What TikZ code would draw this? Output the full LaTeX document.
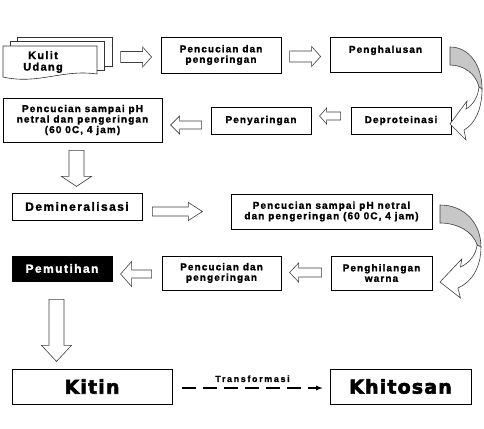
\documentclass[tikz,border=0pt]{standalone}
\usepackage{fontspec}
\setmainfont{Liberation Sans}
\newfontfamily\boxfont[LetterSpace=11,FakeBold=1.5]{Liberation Sans}
\newfontfamily\stepfont[LetterSpace=12,FakeBold=1.5]{Liberation Sans}
\newfontfamily\bigfont[LetterSpace=6,FakeBold=3]{DejaVu Sans}
\newfontfamily\labelfont[LetterSpace=18,FakeBold=1]{Liberation Sans}
\usetikzlibrary{calc}

% tail point, angle, length, shaft, head, head length
\newcommand{\blockarrow}[6]{%
  \draw[blk, shift={(#1)}, rotate=#2] (0,-#4/2) -- (#3-#6,-#4/2) -- (#3-#6,-#5/2) -- (#3,0)
    -- (#3-#6,#5/2) -- (#3-#6,#4/2) -- (0,#4/2) -- cycle;}

% origin, xscale
\newcommand{\curvedarrow}[2]{%
  \begin{scope}[shift={(#1)}, xscale=#2]
    \path[curv, fill=black!22] (0,0) .. controls (19,0) and (32,18) .. (32,42) -- (29,40)
      .. controls (26,27) and (14,18) .. (0,18) -- cycle;
    \path[curv, fill=white] (29,40) .. controls (28,50) and (23,58) .. (16,62) -- (17,54) -- (0,77)
      -- (16,93) -- (14,83) .. controls (25,77) and (32,62) .. (32,42) -- cycle;
  \end{scope}}

\tikzset{
  box/.style={draw, line width=0.8pt, fill=white, align=center, inner sep=1pt,
    font=\boxfont\bfseries\fontsize{10}{10.5}\selectfont},
  stepbox/.style={box, font=\stepfont\bfseries\fontsize{12}{13}\selectfont},
  endbox/.style={box, font=\bigfont\bfseries\fontsize{19}{21}\selectfont},
  page/.style={draw=black!80, fill=white, line width=0.6pt},
  blk/.style={draw=black!75, fill=white, line width=0.6pt},
  curv/.style={draw=black!75, line width=0.6pt},
}

\begin{document}
\begin{tikzpicture}[x=1pt,y=-1pt]
  \useasboundingbox[fill=white] (0,0) rectangle (484,428);

  % raw material
  \path[page] (17,37) rectangle (112,66);
  \path[page] (10,41) rectangle (104,70);
  \path[page] (3,46) -- (97,46) -- (97,74) .. controls (62,69) and (38,85) .. (3,77) -- cycle;
  \node[font=\stepfont\bfseries\fontsize{11}{11.5}\selectfont, align=center] (kulit) at (43,62) {Kulit\\Udang};

  % first row
  \node[box, minimum width=120pt, minimum height=36pt] (cuci1) at (221,55) {Pencucian dan\\pengeringan};
  \node[box, minimum width=111pt, minimum height=35pt] (halus) at (385.5,54.5) {Penghalusan\\~};

  % second row
  \node[box, minimum width=159pt, minimum height=44pt] (netral1) at (82.5,120) {Pencucian sampai pH\\netral dan pengeringan\\(60 0C, 4 jam)};
  \node[box, minimum width=100pt, minimum height=27pt] (saring) at (261,120.5) {Penyaringan};
  \node[box, minimum width=100pt, minimum height=27pt] (deprot) at (401,120.5) {Deproteinasi};

  % third row
  \node[stepbox, minimum width=130pt, minimum height=27pt] (demin) at (77,206.5) {Demineralisasi};
  \node[box, minimum width=201pt, minimum height=35pt] (netral2) at (331.5,211.5) {Pencucian sampai pH netral\\dan pengeringan (60 0C, 4 jam)};

  % fourth row
  \node[stepbox, fill=black, text=white, minimum width=100pt, minimum height=25pt] (putih) at (62,268.5) {Pemutihan};
  \node[box, minimum width=119pt, minimum height=34pt] (cuci2) at (221.5,273) {Pencucian dan\\pengeringan};
  \node[box, minimum width=101pt, minimum height=34pt] (hilang) at (381.5,273) {Penghilangan\\warna};

  % products
  \node[endbox, minimum width=160pt, minimum height=35pt] (kitin) at (92,386.5) {Kitin};
  \node[endbox, minimum width=141pt, minimum height=35pt] (khitosan) at (400.5,386.5) {Khitosan};

  % block arrows
  \blockarrow{$(cuci1.west)+(-40,2)$}{0}{31}{11}{20}{9}
  \blockarrow{$(halus.west)+(-40,2)$}{0}{31}{11}{20}{9}
  \blockarrow{$(saring.west)+(-9,4.5)$}{180}{31}{8}{18}{9}
  \blockarrow{$(deprot.west)+(-10,-4.5)$}{180}{21}{8}{16}{7}
  \blockarrow{$(netral1.south)+(-6,8)$}{-90}{36}{15}{30}{10}
  \blockarrow{$(demin.east)+(10,5)$}{0}{50}{9}{18}{14}
  \blockarrow{$(cuci2.west)+(-10,1)$}{180}{31}{8}{25}{11}
  \blockarrow{$(hilang.west)+(-9,-0.5)$}{180}{32}{9}{19}{9}
  \blockarrow{$(putih.south)+(-5.5,18)$}{-90}{62}{15}{30}{16}

  \curvedarrow{450,47}{1}
  \curvedarrow{440,205}{1.28}

  \draw[-latex, line width=1.2pt, dash pattern=on 14pt off 7pt] ($(kitin.east)+(10,1.5)$) -- ($(khitosan.west)+(-7,1.5)$)
    node[midway, above=2pt, font=\labelfont\bfseries\fontsize{9}{10}\selectfont] (trans) {Transformasi};
\end{tikzpicture}
\end{document}
